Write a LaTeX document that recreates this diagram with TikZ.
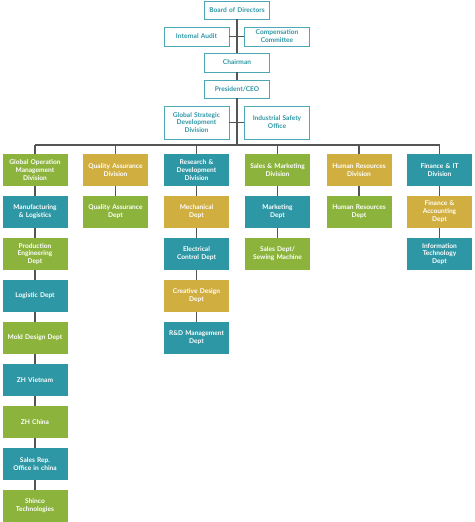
\documentclass[tikz,border=0pt]{standalone}
\usepackage{fontspec}
\setmainfont{Lato}
\definecolor{cgreen}{HTML}{8CB43C}
\definecolor{cgold}{HTML}{D1AE40}
\definecolor{cteal}{HTML}{2E97A5}
\definecolor{tborder}{HTML}{4BA8B4}
\definecolor{lgray}{HTML}{555555}
\begin{document}
\begin{tikzpicture}[x=1pt,y=-1pt,
  box/.style={minimum width=65pt,minimum height=32pt,inner sep=1pt,align=center,
    text width=63pt,font=\fontsize{6.6}{7.9}\selectfont\bfseries,text=white},
  gbox/.style={box,fill=cgreen},
  obox/.style={box,fill=cgold},
  tbox/.style={box,fill=cteal},
  topbox/.style={draw=tborder,line width=0.9pt,fill=white,minimum width=65pt,inner sep=1pt,
    align=center,text width=63pt,font=\fontsize{6.6}{7.9}\selectfont\bfseries,text=cteal},
  conn/.style={draw=lgray,line width=1.4pt}]
\useasboundingbox (0,0) rectangle (474,522);
% top part
\node[topbox,minimum height=18pt] (bod) at (237,10) {Board of Directors};
\node[topbox,minimum height=19pt] (ia) at (196.5,36.5) {Internal Audit};
\node[topbox,minimum height=19pt] (cc) at (277,36.5) {Compensation\\Committee};
\node[topbox,minimum height=19pt] (ch) at (237,62.5) {Chairman};
\node[topbox,minimum height=18pt] (ceo) at (237,89) {President/CEO};
\node[topbox,minimum height=33pt] (gsd) at (196.5,122.5) {Global Strategic\\Development\\Division};
\node[topbox,minimum height=33pt] (iso) at (277,122.5) {Industrial Safety\\Office};
% columns
\node[gbox] (a1) at (35,170) {Global Operation\\Management\\Division};
\node[tbox] (a2) at (35,212) {Manufacturing\\\& Logistics};
\node[gbox] (a3) at (35,254) {Production\\Engineering\\Dept};
\node[tbox] (a4) at (35,296) {Logistic Dept};
\node[gbox] (a5) at (35,338) {Mold Design Dept};
\node[tbox] (a6) at (35,380) {ZH Vietnam};
\node[gbox] (a7) at (35,422) {ZH China};
\node[tbox] (a8) at (35,464) {Sales Rep.\\Office in china};
\node[gbox] (a9) at (35,506) {Shinco\\Technologies};
\node[obox] (b1) at (115.5,170) {Quality Assurance\\Division};
\node[gbox] (b2) at (115.5,212) {Quality Assurance\\Dept};
\node[tbox] (c1) at (196.5,170) {Research \&\\Development\\Division};
\node[obox] (c2) at (196.5,212) {Mechanical\\Dept};
\node[tbox] (c3) at (196.5,254) {Electrical\\Control Dept};
\node[obox] (c4) at (196.5,296) {Creative Design\\Dept};
\node[tbox] (c5) at (196.5,338) {R\&D Management\\Dept};
\node[gbox] (d1) at (277.5,170) {Sales \& Marketing\\Division};
\node[tbox] (d2) at (277.5,212) {Marketing\\Dept};
\node[gbox] (d3) at (277.5,254) {Sales Dept/\\Sewing Machine};
\node[obox] (e1) at (359,170) {Human Resources\\Division};
\node[gbox] (e2) at (359,212) {Human Resources\\Dept};
\node[tbox] (f1) at (439.5,170) {Finance \& IT\\Division};
\node[obox] (f2) at (439.5,212) {Finance \&\\Accounting\\Dept};
\node[tbox] (f3) at (439.5,254) {Information\\Technology\\Dept};
% connectors top
\coordinate (bus) at (237,145);
\coordinate (busL) at (a1.north |- bus);
\coordinate (busR) at (f1.north |- bus);
\draw[conn] (bod.south) -- (ch.north);
\draw[conn] (ia.east) -- (cc.west);
\draw[conn] (ch.south) -- (ceo.north);
\draw[conn] (ceo.south) -- (bus);
\draw[conn] (gsd.east) -- (iso.west);
\draw[conn] (busL) -- (busR);
\foreach \n in {a1,b1,c1,d1,e1,f1} \draw[conn] (\n.north |- bus) -- (\n.north);
% column links
\foreach \u/\v in {a1/a2,a2/a3,a3/a4,a4/a5,a5/a6,a6/a7,a7/a8,a8/a9,b1/b2,c1/c2,c2/c3,c3/c4,c4/c5,d1/d2,d2/d3,e1/e2,f1/f2,f2/f3}
  \draw[conn] (\u.south) -- (\v.north);
\end{tikzpicture}
\end{document}
